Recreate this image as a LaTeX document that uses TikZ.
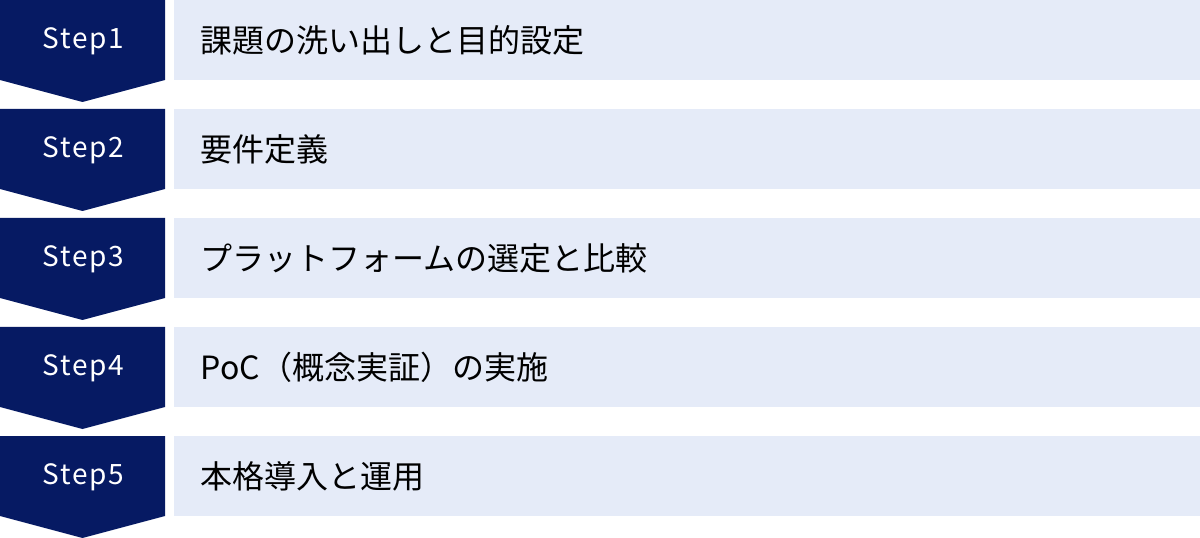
\documentclass[tikz,border=0pt]{standalone}
\usepackage{fontspec}
\usepackage{tikz}
\setmainfont{Noto Sans CJK JP}
\newfontfamily\stepfont[LetterSpace=6]{Noto Sans CJK JP}
\definecolor{navy}{HTML}{061A63}
\definecolor{pale}{HTML}{E5EBF8}

\begin{document}
\begin{tikzpicture}[x=0.75pt, y=-0.75pt,
	stepnum/.style = {text=white, font=\stepfont\fontsize{21}{24}\selectfont},
	task/.style = {fill=pale, anchor=north west, minimum width=769.5pt, minimum height=60pt, text width=729.5pt, align=left, inner sep=0pt, font=\fontsize{24}{28}\selectfont}]
	\useasboundingbox (0,0) rectangle (1200,538);
	\fill[navy] (0,0) -- (165,0) -- (165,80) -- (82.5,102) -- (0,80) -- cycle;
	\node[stepnum] (s1) at (83.5,41) {Step1};
	\node[task] (t1) at (174,0) {課題の洗い出しと目的設定};
	\fill[navy] (0,109) -- (165,109) -- (165,189) -- (82.5,211) -- (0,189) -- cycle;
	\node[stepnum] (s2) at (83.5,150) {Step2};
	\node[task] (t2) at (174,109) {要件定義};
	\fill[navy] (0,218) -- (165,218) -- (165,298) -- (82.5,320) -- (0,298) -- cycle;
	\node[stepnum] (s3) at (83.5,259) {Step3};
	\node[task] (t3) at (174,218) {プラットフォームの選定と比較};
	\fill[navy] (0,327) -- (165,327) -- (165,407) -- (82.5,429) -- (0,407) -- cycle;
	\node[stepnum] (s4) at (83.5,368) {Step4};
	\node[task] (t4) at (174,327) {PoC（概念実証）の実施};
	\fill[navy] (0,436) -- (165,436) -- (165,516) -- (82.5,538) -- (0,516) -- cycle;
	\node[stepnum] (s5) at (83.5,477) {Step5};
	\node[task] (t5) at (174,436) {本格導入と運用};
\end{tikzpicture}
\end{document}
